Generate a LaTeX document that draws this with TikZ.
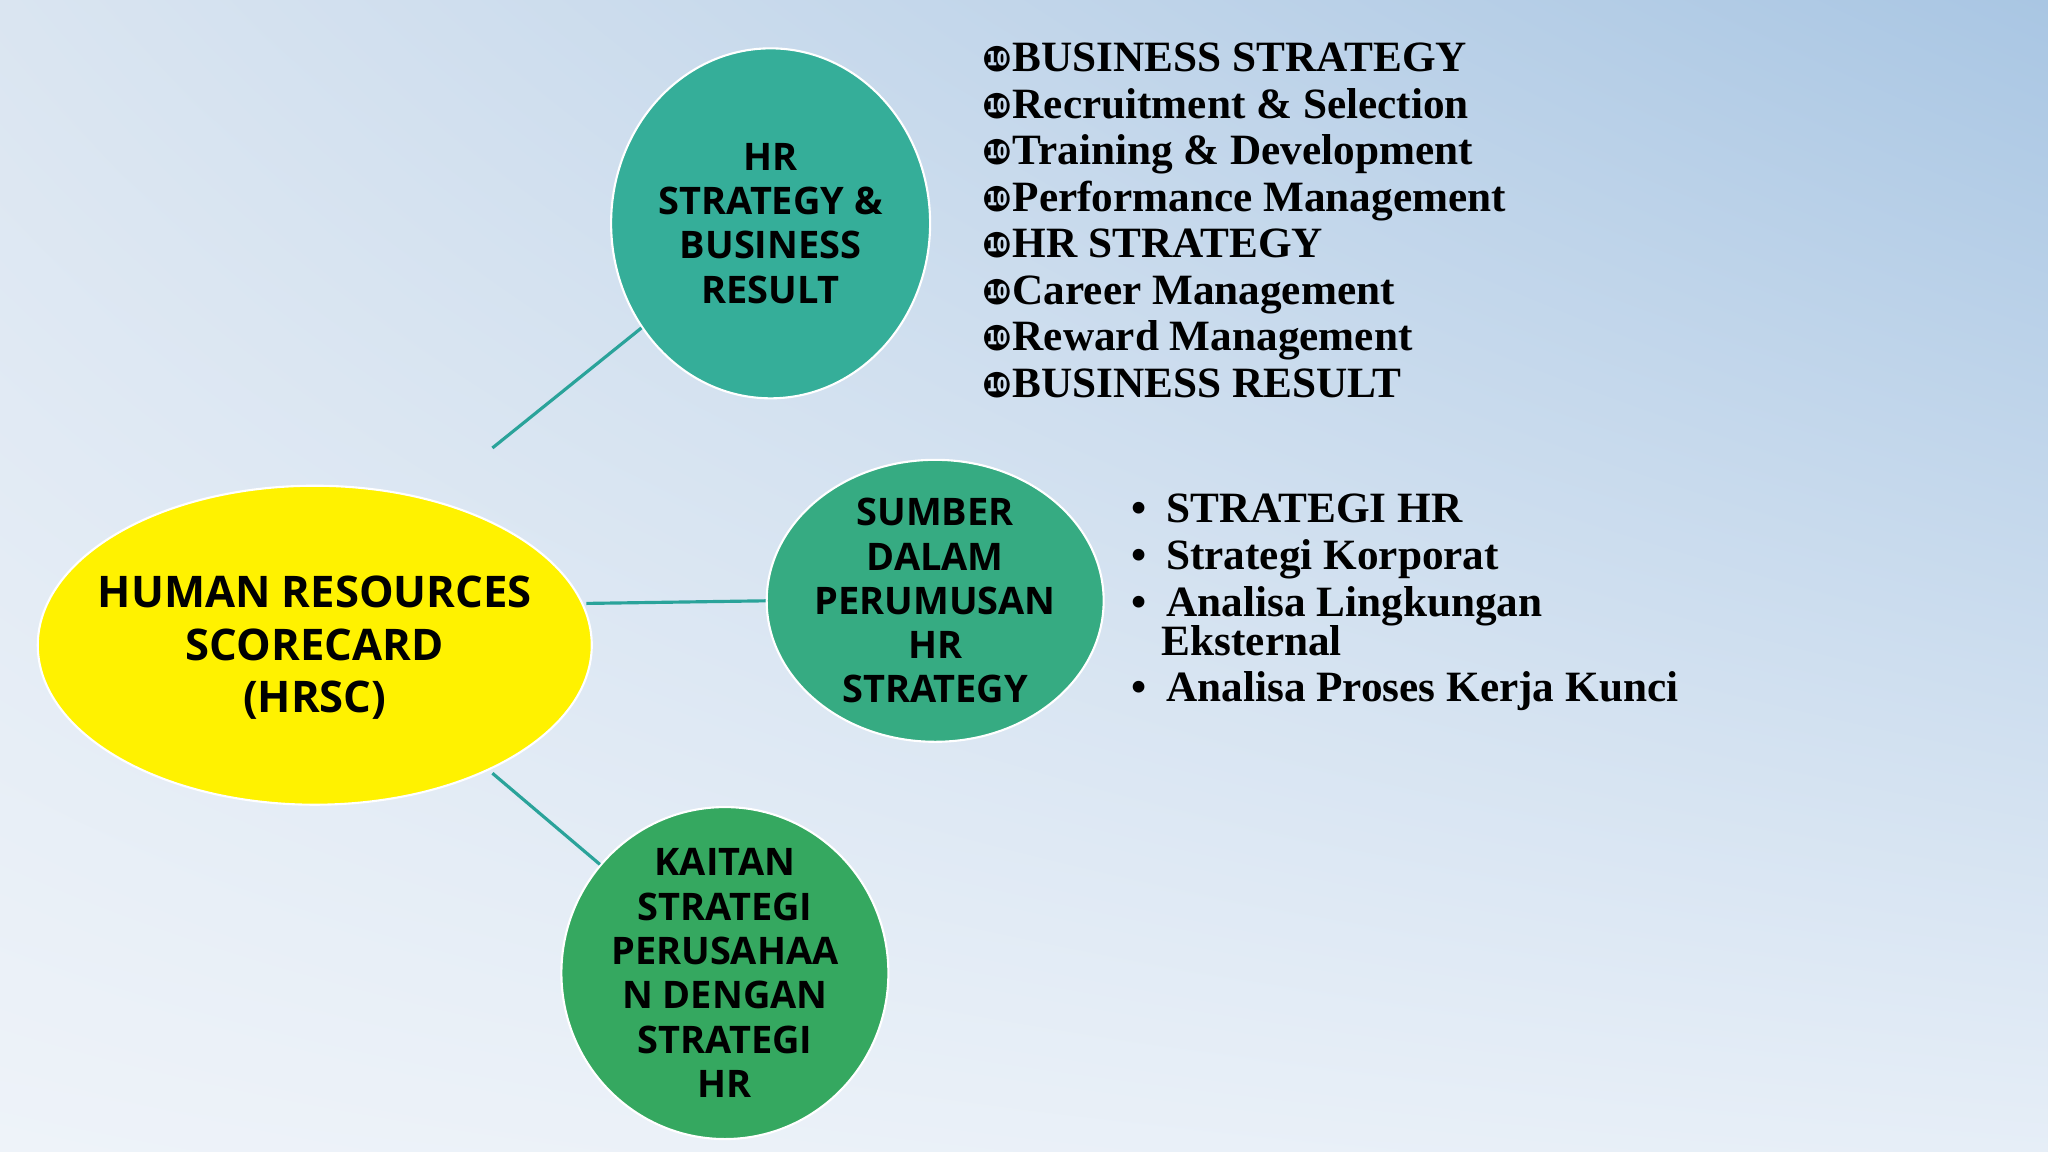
\documentclass[tikz,border=0pt]{standalone}
\usepackage{fontspec}
\setmainfont{Liberation Serif}
\newfontfamily\circfont{Open Sans}
\newfontfamily\dingfont{DejaVu Sans}
\usetikzlibrary{shapes.geometric,shadings}
\definecolor{bgTL}{HTML}{DAE5F1}
\definecolor{bgTR}{HTML}{A9C6E3}
\definecolor{bgBL}{HTML}{EEF3F9}
\definecolor{bgBR}{HTML}{E6EEF7}
\definecolor{cA}{HTML}{35AE99}
\definecolor{cB}{HTML}{36AB82}
\definecolor{cC}{HTML}{35A860}
\definecolor{lnk}{HTML}{2AA39A}
\tikzset{
 blob/.style={ellipse,inner sep=0pt,draw=white,line width=0.6pt},
 ctext/.style={font=\circfont\bfseries\fontsize{10.8}{12.6}\selectfont,align=center,text=black},
 link/.style={draw=lnk,line width=0.9pt},
 item/.style={anchor=base west,inner sep=0pt,font=\bfseries\fontsize{12.3}{14}\selectfont},
}
\newcommand{\tenmark}{{\dingfont\fontsize{10}{12}\selectfont\char"277F}}
\begin{document}
\begin{tikzpicture}[x=0.013061cm,y=-0.013061cm]
\useasboundingbox (0,0) rectangle (1568,882);
\shade[upper left=bgTL,upper right=bgTR,lower left=bgBL,lower right=bgBR] (0,0) rectangle (1568,882);
\node[blob,fill=yellow,minimum width=5.54cm,minimum height=3.19cm] (hrsc) at (241,494) {};
\node[ctext,font=\circfont\bfseries\fontsize{12.4}{15}\selectfont] at (241,496) {HUMAN RESOURCES\\SCORECARD\\(HRSC)};
\node[blob,fill=cA,minimum width=3.19cm,minimum height=3.5cm] (c1) at (590,171) {};
\node[ctext] at (590,171) {HR\\STRATEGY \&\\BUSINESS\\RESULT};
\node[blob,fill=cB,minimum width=3.37cm,minimum height=2.82cm] (c2) at (716,460) {};
\node[ctext] at (716,460) {SUMBER\\DALAM\\PERUMUSAN\\HR\\STRATEGY};
\node[blob,fill=cC,minimum width=3.27cm,minimum height=3.32cm] (c3) at (555,745) {};
\node[ctext] at (555,745) {KAITAN\\STRATEGI\\PERUSAHAA\\N DENGAN\\STRATEGI\\HR};
\coordinate (p1) at (377,343);
\coordinate (p2) at (449,462);
\coordinate (p3) at (377,592);
\draw[link] (p1) -- (c1.219);
\draw[link] (p2) -- (c2.west);
\draw[link] (p3) -- (c3.139);
\foreach \t [count=\i] in {BUSINESS STRATEGY,Recruitment \& Selection,Training \& Development,Performance Management,HR STRATEGY,Career Management,Reward Management,BUSINESS RESULT}
  \node[item] (l\i) at (752,{55+35.57*(\i-1)}) {\tenmark\t};
\foreach \t/\yy [count=\i] in {STRATEGI HR/400,Strategi Korporat/436,Analisa Lingkungan/472,Analisa Proses Kerja Kunci/537}
  \node[item] (b\i) at (866,\yy) {\textbullet\hspace{0.45em}\t};
\node[item] (b5) at (889,502) {Eksternal};
\end{tikzpicture}
\end{document}
